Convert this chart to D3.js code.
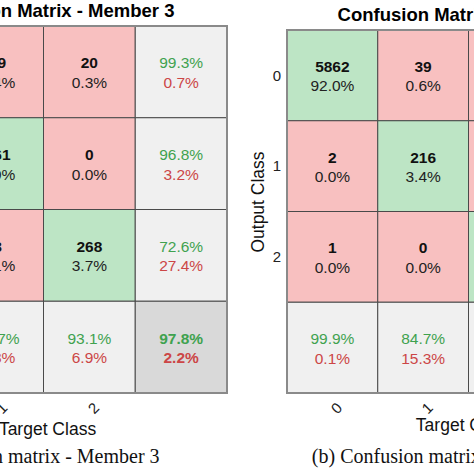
<!DOCTYPE html>
<html>
<head>
<meta charset="utf-8">
<script src="https://cdn.jsdelivr.net/npm/d3@7"></script>
<style>
  html, body { margin: 0; padding: 0; background: #fff; overflow: hidden; }
  svg { display: block; }
</style>
</head>
<body>
<div id="chart"></div>
<script>
// class labels
const classes = ['0', '1', '2'];

// counts: rows = output class, columns = target class
const countsA = [
  [6531, 29, 20],
  [12, 361, 0],
  [93, 8, 268]
];
const countsB = [
  [5862, 39, 15],
  [2, 216, 5],
  [1, 0, 232]
];

const titles = ['Confusion Matrix - Member 3', 'Confusion Matrix - Member 4'];
const captions = ['(a) Confusion matrix - Member 3', '(b) Confusion matrix - Member 4'];

// layout of the two panels (the picture is a crop, so the left one starts off-screen)
const panels = [
  { counts: countsA, title: titles[0], caption: captions[0], left: -140, top: 26, cell: 91.75, shift: 4, capX: 26 },
  { counts: countsB, title: titles[1], caption: captions[1], left: 287, top: 30, cell: 90.75, shift: -4, capX: 446 }
];

const W = 474, H = 474;
const sans = 'Arial, "Liberation Sans", Helvetica, sans-serif';
const serif = '"Times New Roman", "Liberation Serif", serif';

// colours
const greenBg = '#bde5c5', redBg = '#f8c0c0';
const sumBg = '#f0f0f0', cornerBg = '#d9d9d9';
const greenTxt = '#3fa24f', redTxt = '#cc4646';

const svg = d3.select('#chart').append('svg')
  .attr('width', W)
  .attr('height', H);

const pct = v => (v * 100).toFixed(1) + '%';

panels.forEach(p => {
  const n = classes.length;
  const keys = [...classes, 'sum'];
  const size = p.cell * (n + 1);
  const x = d3.scaleBand().domain(keys).range([p.left, p.left + size]);
  const y = d3.scaleBand().domain(keys).range([p.top, p.top + size]);
  const total = d3.sum(p.counts.flat());
  const rowSum = p.counts.map(r => d3.sum(r));
  const colSum = classes.map((c, j) => d3.sum(p.counts, r => r[j]));
  const diag = d3.sum(classes, (c, i) => p.counts[i][i]);

  // cells
  const cells = [];
  classes.forEach((rc, i) => {
    classes.forEach((cc, j) => {
      cells.push({ r: rc, c: cc, type: i === j ? 'hit' : 'miss',
        top: String(p.counts[i][j]), bottom: pct(p.counts[i][j] / total) });
    });
    cells.push({ r: rc, c: 'sum', type: 'sum',
      top: pct(p.counts[i][i] / rowSum[i]), bottom: pct(1 - p.counts[i][i] / rowSum[i]) });
  });
  classes.forEach((cc, j) => {
    cells.push({ r: 'sum', c: cc, type: 'sum',
      top: pct(p.counts[j][j] / colSum[j]), bottom: pct(1 - p.counts[j][j] / colSum[j]) });
  });
  cells.push({ r: 'sum', c: 'sum', type: 'corner',
    top: pct(diag / total), bottom: pct(1 - diag / total) });

  const g = svg.append('g');
  const fillOf = d => d.type === 'hit' ? greenBg : d.type === 'miss' ? redBg : d.type === 'sum' ? sumBg : cornerBg;

  g.selectAll('rect.cell')
    .data(cells)
    .join('rect')
    .attr('class', 'cell')
    .attr('x', d => x(d.c))
    .attr('y', d => y(d.r))
    .attr('width', x.bandwidth())
    .attr('height', y.bandwidth())
    .attr('fill', fillOf)
    .attr('stroke', '#4a4a4a')
    .attr('stroke-width', 1);

  // outer box
  g.append('rect')
    .attr('x', p.left)
    .attr('y', p.top)
    .attr('width', size)
    .attr('height', size)
    .attr('fill', 'none')
    .attr('stroke', '#8a8a8a')
    .attr('stroke-width', 2);

  // texts in cells
  const cx = d => x(d.c) + x.bandwidth() / 2;
  const cy = d => y(d.r) + y.bandwidth() / 2;
  g.selectAll('text.top')
    .data(cells)
    .join('text')
    .attr('x', cx)
    .attr('y', d => cy(d) - 3.5)
    .attr('text-anchor', 'middle')
    .attr('font-family', sans)
    .attr('font-size', 15.5)
    .attr('font-weight', d => d.type === 'hit' || d.type === 'miss' || d.type === 'corner' ? 'bold' : 'normal')
    .attr('fill', d => d.type === 'sum' || d.type === 'corner' ? greenTxt : '#111')
    .text(d => d.top);
  g.selectAll('text.bottom')
    .data(cells)
    .join('text')
    .attr('x', cx)
    .attr('y', d => cy(d) + 16)
    .attr('text-anchor', 'middle')
    .attr('font-family', sans)
    .attr('font-size', 15.5)
    .attr('font-weight', d => d.type === 'corner' ? 'bold' : 'normal')
    .attr('fill', d => d.type === 'sum' || d.type === 'corner' ? redTxt : '#222')
    .text(d => d.bottom);

  const midX = p.left + size / 2 + p.shift;

  // title
  svg.append('text')
    .attr('x', midX)
    .attr('y', p.top - 9)
    .attr('text-anchor', 'middle')
    .attr('font-family', sans)
    .attr('font-size', 18.5)
    .attr('font-weight', 'bold')
    .attr('fill', '#000')
    .text(p.title);

  // y ticks and label
  svg.selectAll(null)
    .data(classes)
    .join('text')
    .attr('x', p.left - 6)
    .attr('y', d => y(d) + y.bandwidth() / 2)
    .attr('dy', '0.35em')
    .attr('text-anchor', 'end')
    .attr('font-family', sans)
    .attr('font-size', 15)
    .attr('fill', '#222')
    .text(d => d);
  svg.append('text')
    .attr('transform', `translate(${p.left - 23},${p.top + 172}) rotate(-90)`)
    .attr('text-anchor', 'middle')
    .attr('font-family', sans)
    .attr('font-size', 17.5)
    .attr('fill', '#111')
    .text('Output Class');

  // x ticks (rotated) and label
  svg.selectAll(null)
    .data(classes)
    .join('text')
    .attr('transform', d => `translate(${x(d) + x.bandwidth() / 2 + 4},${p.top + size + 15}) rotate(-45)`)
    .attr('dy', '0.35em')
    .attr('text-anchor', 'middle')
    .attr('font-family', sans)
    .attr('font-size', 15)
    .attr('fill', '#222')
    .text(d => d);
  svg.append('text')
    .attr('x', midX)
    .attr('y', p.top + size + 42 - (p.top - 26))
    .attr('text-anchor', 'middle')
    .attr('font-family', sans)
    .attr('font-size', 17.5)
    .attr('fill', '#111')
    .text('Target Class');

  // caption under the panel
  svg.append('text')
    .attr('x', p.capX)
    .attr('y', 463)
    .attr('text-anchor', 'middle')
    .attr('font-family', serif)
    .attr('font-size', 20)
    .attr('fill', '#111')
    .text(p.caption);
});
</script>
</body>
</html>
